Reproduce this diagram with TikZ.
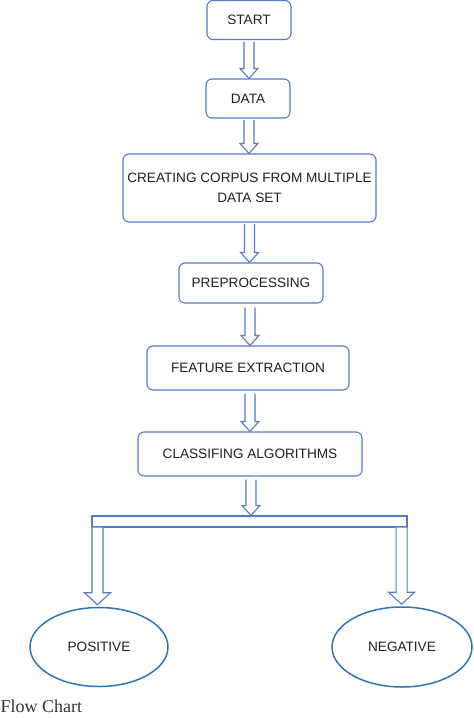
\documentclass[tikz,border=0pt]{standalone}
\usepackage{fontspec}
\setmainfont{Liberation Sans}
\newfontfamily\capfont{Liberation Serif}
\usetikzlibrary{shapes.geometric,calc}
\definecolor{boxblue}{RGB}{84,122,200}
\definecolor{ellblue}{RGB}{46,117,182}
\tikzset{
  box/.style={draw=boxblue, line width=1.1pt, rounded corners=6pt, align=center,
    font=\fontsize{13.6}{20}\selectfont, text=black!88, inner sep=0pt},
  oval/.style={draw=ellblue, line width=1.5pt, ellipse, inner sep=0pt,
    font=\fontsize{13.6}{16}\selectfont, text=black!88},
  hollow/.style={draw=boxblue, line width=1.1pt, fill=white, line join=miter},
}
% hollow down arrow: #1 top point, #2 tip point, #3 shaft half width, #4 head half width, #5 head length
\newcommand{\hollowarrow}[5]{%
  \path[hollow] let \p1=(#1), \p2=(#2) in
    (\x1-#3,\y1) -- (\x1-#3,\y2+#5) -- (\x1-#4,\y2+#5) -- (\x1,\y2) --
    (\x1+#4,\y2+#5) -- (\x1+#3,\y2+#5) -- (\x1+#3,\y1);}
\begin{document}
\begin{tikzpicture}[x=1pt,y=-1pt]
\useasboundingbox (0,0) rectangle (474,718);
\node[box, minimum width=84pt, minimum height=39pt] (start) at (249,20) {START};
\node[box, minimum width=84pt, minimum height=39pt] (data) at (248,98.5) {DATA};
\node[box, minimum width=253pt, minimum height=68pt] (corpus) at (249.5,188) {CREATING CORPUS FROM MULTIPLE\\DATA SET};
\node[box, minimum width=144pt, minimum height=40pt] (pre) at (251,283) {PREPROCESSING};
\node[box, minimum width=202pt, minimum height=44pt] (feat) at (248,368) {FEATURE EXTRACTION};
\node[box, minimum width=224pt, minimum height=44pt] (cls) at (250,454) {CLASSIFING ALGORITHMS};
\node[draw=boxblue, line width=1.1pt, minimum width=315pt, minimum height=11pt, inner sep=0pt] (bar) at (249.5,521.5) {};
\node[oval, minimum width=138pt, minimum height=79pt] (pos) at (99,647) {POSITIVE};
\node[oval, minimum width=140pt, minimum height=80pt] (neg) at (402,647) {NEGATIVE};
\coordinate (t1) at ($(start.south)+(0,1.5)$);
\coordinate (t2) at ($(data.south)+(1,1.5)$);
\coordinate (t3) at ($(corpus.south)+(0,1.5)$);
\coordinate (t4) at ($(pre.south)+(-1,4)$);
\coordinate (t5) at ($(feat.south)+(2,3)$);
\coordinate (t6) at ($(cls.south)+(1,3)$);
\hollowarrow{t1}{start.south |- data.north}{5}{9}{10}
\hollowarrow{t2}{t2 |- corpus.north}{5}{9}{10}
\hollowarrow{t3}{corpus.south |- pre.north}{5}{9}{10}
\hollowarrow{t4}{t4 |- feat.north}{5}{9}{10}
\hollowarrow{t5}{t5 |- cls.north}{5}{9}{10}
\hollowarrow{t6}{t6 |- bar.north}{5}{9}{10}
\coordinate (l1) at ($(bar.south west)+(6,0)$);
\coordinate (r1) at ($(bar.south east)+(-6,0)$);
\hollowarrow{l1}{$(l1 |- pos.north)+(0,-2)$}{5.5}{13}{12}
\hollowarrow{r1}{$(r1 |- neg.north)+(0,-2)$}{5.5}{13}{12}
\node[anchor=base west, inner sep=0pt, font=\capfont\fontsize{18}{21}\selectfont, text=black!80] (cap) at (0.5,712.5) {Flow Chart};
\end{tikzpicture}
\end{document}
